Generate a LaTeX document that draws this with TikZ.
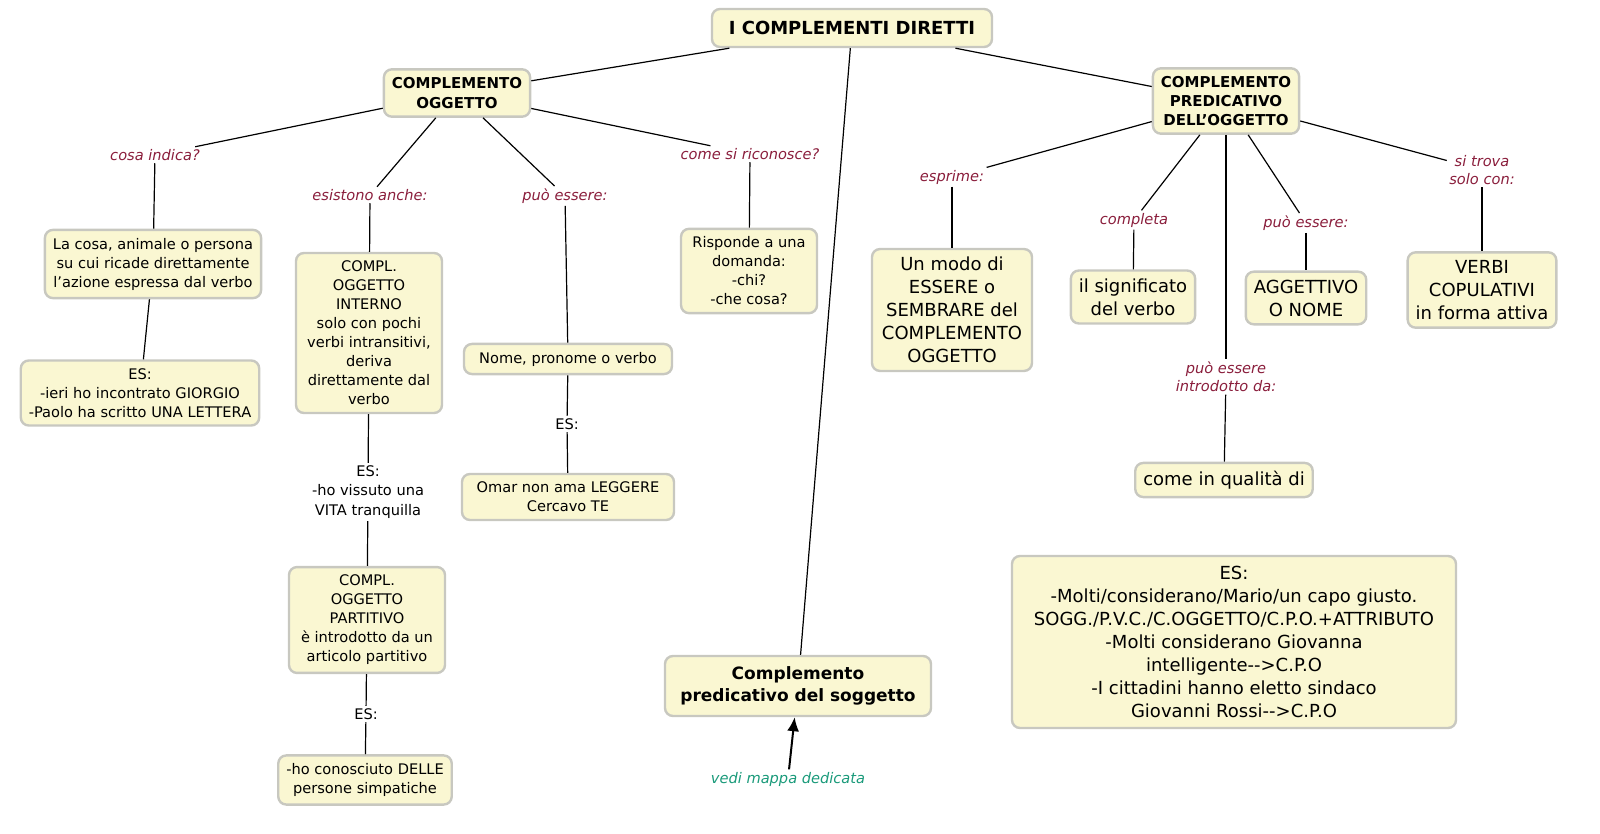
\documentclass[tikz,border=0pt]{standalone}
\usepackage{fontspec}
\setmainfont{DejaVu Sans}
\usetikzlibrary{arrows.meta}
\definecolor{boxfill}{HTML}{FAF7D2}
\definecolor{boxline}{HTML}{C8C8C0}
\definecolor{lab}{HTML}{8A1E3C}
\definecolor{grn}{HTML}{1A9A7A}
\begin{document}
\begin{tikzpicture}[x=0.5pt,y=-0.5pt,
 box/.style={draw=boxline,line width=1.2pt,fill=boxfill,rounded corners=4pt,align=center,font=\fontsize{7.3}{9.5}\selectfont,inner sep=4pt},
 bigbox/.style={box,font=\fontsize{9}{11.5}\selectfont},
 lbl/.style={align=center,text=lab,font=\fontsize{7.3}{9}\selectfont\itshape,inner sep=1pt},
 txt/.style={align=center,font=\fontsize{7.3}{9.8}\selectfont,inner sep=1pt},
 every path/.style={line width=0.6pt}]
\useasboundingbox (0,0) rectangle (1600,834);
\node[box,font=\fontsize{9}{11}\selectfont\bfseries,minimum width=140pt,minimum height=19pt] (t) at (852,28) {I COMPLEMENTI DIRETTI};
\node[box,font=\fontsize{7.5}{10}\selectfont\bfseries] (co) at (457,93) {COMPLEMENTO\\OGGETTO};
\node[box,font=\fontsize{7.5}{9.5}\selectfont\bfseries] (cpo) at (1226,101) {COMPLEMENTO\\PREDICATIVO\\DELL\symbol{39}OGGETTO};
\node[box,font=\fontsize{8.5}{11}\selectfont\bfseries,minimum width=133pt,minimum height=30pt] (cps) at (798,686) {Complemento\\predicativo del soggetto};
\node[lbl,text=grn] (vm) at (788,779) {vedi mappa dedicata};
% oggetto branch
\node[lbl] (l1) at (155,155) {cosa indica?};
\node[box] (b1) at (153,264) {La cosa, animale o persona\\su cui ricade direttamente\\l\symbol{39}azione espressa dal verbo};
\node[box] (b2) at (140,393) {ES:\\-ieri ho incontrato GIORGIO\\-Paolo ha scritto UNA LETTERA};
\node[lbl] (l2) at (370,195) {esistono anche:};
\node[box,minimum width=73pt] (b3) at (369,333) {COMPL.\\OGGETTO\\INTERNO\\solo con pochi\\verbi intransitivi,\\deriva\\direttamente dal\\verbo};
\node[txt] (e1) at (368,492) {ES:\\-ho vissuto una\\VITA tranquilla};
\node[box,minimum width=78pt] (b4) at (367,620) {COMPL.\\OGGETTO\\PARTITIVO\\è introdotto da un\\articolo partitivo};
\node[txt] (e2) at (366,714) {ES:};
\node[box] (b5) at (365,780) {-ho conosciuto DELLE\\persone simpatiche};
\node[lbl] (l3) at (565,196) {può essere:};
\node[box,minimum width=104pt] (b6) at (568,359) {Nome, pronome o verbo};
\node[txt] (e3) at (567,424) {ES:};
\node[box,minimum width=106pt] (b7) at (568,497) {Omar non ama LEGGERE\\Cercavo TE};
\node[lbl] (l4) at (750,154) {come si riconosce?};
\node[box,minimum width=68pt] (b8) at (749,271) {Risponde a una\\domanda:\\-chi?\\-che cosa?};
% predicativo branch
\node[lbl] (m1) at (952,177) {esprime:};
\node[bigbox,minimum width=80pt] (c1) at (952,310) {Un modo di\\ESSERE o\\SEMBRARE del\\COMPLEMENTO\\OGGETTO};
\node[lbl] (m2) at (1134,220) {completa};
\node[bigbox] (c2) at (1133,297) {il significato\\del verbo};
\node[lbl] (m3) at (1306,223) {può essere:};
\node[bigbox] (c3) at (1306,298) {AGGETTIVO\\O NOME};
\node[lbl] (m4) at (1482,170) {si trova\\solo con:};
\node[bigbox,minimum width=74pt] (c4) at (1482,290) {VERBI\\COPULATIVI\\in forma attiva};
\node[lbl] (m5) at (1226,377) {può essere\\introdotto da:};
\node[bigbox] (c5) at (1224,480) {come in qualità di};
\node[bigbox,minimum width=222pt,minimum height=86pt] (c6) at (1234,642) {ES:\\-Molti/considerano/Mario/un capo giusto.\\SOGG./P.V.C./C.OGGETTO/C.P.O.+ATTRIBUTO\\-Molti considerano Giovanna\\intelligente{-}{-}>C.P.O\\-I cittadini hanno eletto sindaco\\Giovanni Rossi{-}{-}>C.P.O};
% connectors
\draw (t) -- (co); \draw (t) -- (cpo); \draw (t) -- (cps);
\draw[-{Latex[length=7pt,width=6pt]},line width=1pt] (vm) -- (cps);
\draw (co) -- (l1); \draw (l1) -- (b1); \draw (b1) -- (b2);
\draw (co) -- (l2); \draw (l2) -- (b3); \draw (b3) -- (e1); \draw (e1) -- (b4); \draw (b4) -- (e2); \draw (e2) -- (b5);
\draw (co) -- (l3); \draw (l3) -- (b6); \draw (b6) -- (e3); \draw (e3) -- (b7);
\draw (co) -- (l4); \draw (l4) -- (b8);
\draw (cpo) -- (m1); \draw (m1) -- (c1);
\draw (cpo) -- (m2); \draw (m2) -- (c2);
\draw (cpo) -- (m3); \draw (m3) -- (c3);
\draw (cpo) -- (m4); \draw (m4) -- (c4);
\draw (cpo) -- (m5); \draw (m5) -- (c5);
\end{tikzpicture}
\end{document}
